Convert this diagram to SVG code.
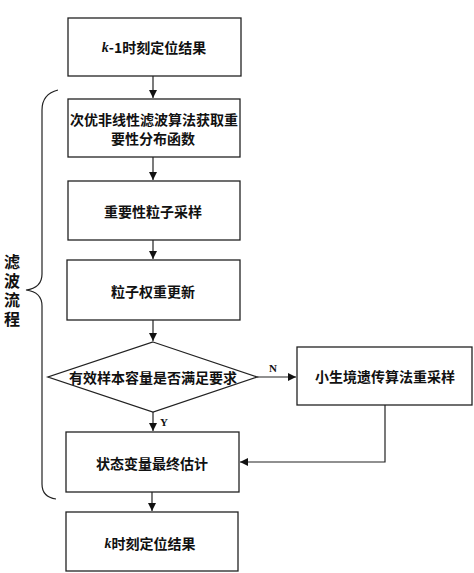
<svg xmlns="http://www.w3.org/2000/svg" width="474" height="573" viewBox="0 0 474 573">
<style>
.box{fill:#fff;stroke:#222;stroke-width:1.3}
.t{font-family:"Noto Sans CJK SC","Liberation Serif",serif;font-size:14px;font-weight:bold;fill:#111;text-anchor:middle;dominant-baseline:central}
.lbl{font-family:"Liberation Serif",serif;font-size:11px;font-weight:bold;fill:#111;text-anchor:middle;dominant-baseline:central}
.side{font-family:"Noto Sans CJK SC",serif;font-size:16px;font-weight:bold;fill:#111;text-anchor:middle;writing-mode:vertical-rl;letter-spacing:3px}
.ln{fill:none;stroke:#222;stroke-width:1.2}
</style>
<defs>
<marker id="ah" viewBox="0 0 10 10" refX="10" refY="5" markerWidth="8" markerHeight="8" markerUnits="userSpaceOnUse" orient="auto">
<path d="M0,0 L10,5 L0,10 Z" fill="#111"/>
</marker>
</defs>
<rect width="474" height="573" fill="#fff"/>
<g id="connectors">
<line class="ln" x1="153" y1="76" x2="153" y2="98" marker-end="url(#ah)"/>
<line class="ln" x1="153" y1="157" x2="153" y2="180" marker-end="url(#ah)"/>
<line class="ln" x1="153" y1="240" x2="153" y2="259" marker-end="url(#ah)"/>
<line class="ln" x1="153" y1="320" x2="153" y2="341" marker-end="url(#ah)"/>
<line class="ln" x1="257" y1="377" x2="296" y2="377" marker-end="url(#ah)"/>
<text class="lbl" x="273" y="368">N</text>
<line class="ln" x1="153" y1="412" x2="153" y2="431" marker-end="url(#ah)"/>
<text class="lbl" x="164" y="422">Y</text>
<polyline class="ln" points="385,405 385,462 240,462" marker-end="url(#ah)"/>
<line class="ln" x1="152" y1="492" x2="152" y2="511" marker-end="url(#ah)"/>
</g>
<g id="brace">
<path class="ln" d="M58,90 Q42,94 42,110 L42,274 Q42,288 26,290 Q42,292 42,306 L42,484 Q42,497 56,499"/>
<text class="side" x="12" y="292">滤波流程</text>
</g>
<g id="n1">
<rect class="box" x="68" y="18" width="173" height="58"/>
<text class="t" x="154" y="47"><tspan font-style="italic" font-family="Liberation Serif">k</tspan>-1时刻定位结果</text>
</g>
<g id="n2">
<rect class="box" x="68" y="99" width="172" height="58"/>
<text class="t" x="154" y="119">次优非线性滤波算法获取重</text>
<text class="t" x="153" y="138">要性分布函数</text>
</g>
<g id="n3">
<rect class="box" x="68" y="181" width="172" height="59"/>
<text class="t" x="153" y="211">重要性粒子采样</text>
</g>
<g id="n4">
<rect class="box" x="67" y="260" width="173" height="60"/>
<text class="t" x="153" y="291">粒子权重更新</text>
</g>
<g id="n5">
<polygon class="box" points="153,342 257,377 153,412 48,377"/>
<text class="t" x="153" y="377">有效样本容量是否满足要求</text>
</g>
<g id="n6">
<rect class="box" x="297" y="347" width="175" height="58"/>
<text class="t" x="385" y="376">小生境遗传算法重采样</text>
</g>
<g id="n7">
<rect class="box" x="66" y="432" width="173" height="60"/>
<text class="t" x="152" y="463">状态变量最终估计</text>
</g>
<g id="n8">
<rect class="box" x="66" y="512" width="172" height="59"/>
<text class="t" x="150" y="543"><tspan font-style="italic" font-family="Liberation Serif">k</tspan>时刻定位结果</text>
</g>
</svg>
